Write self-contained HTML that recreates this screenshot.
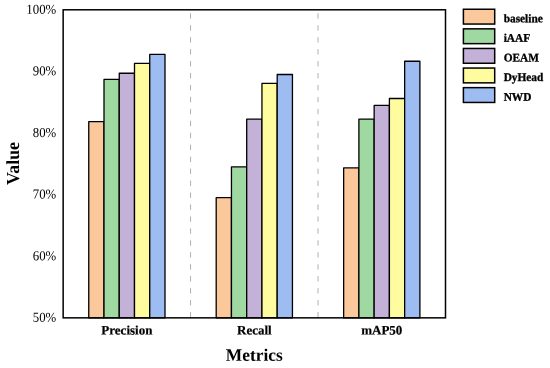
<!DOCTYPE html>
<html><head><meta charset="utf-8"><title>Metrics chart</title>
<style>
html,body{margin:0;padding:0;background:#fff;}
body{width:550px;height:368px;overflow:hidden;}
svg{display:block;}
text{font-family:"Liberation Serif","Times New Roman",serif;fill:#000;text-rendering:geometricPrecision;}
.tk{font-size:12.85px;}
.ct{font-size:13px;font-weight:bold;stroke:#000;stroke-width:0.2px;}
.ax{font-size:17.4px;font-weight:bold;}
.ay{font-size:17.8px;font-weight:bold;}
.lg{font-size:11.35px;font-weight:bold;stroke:#000;stroke-width:0.3px;}
</style></head><body>
<svg width="550" height="368" viewBox="0 0 550 368">
<rect width="550" height="368" fill="#fff"/>
<line x1="190.55" y1="13.25" x2="190.55" y2="317.85" stroke="#b0b0b0" stroke-width="1" stroke-dasharray="5.4 6.55"/>
<line x1="318.00" y1="13.25" x2="318.00" y2="317.85" stroke="#b0b0b0" stroke-width="1" stroke-dasharray="5.4 6.55"/>
<rect x="88.75" y="121.62" width="15.25" height="196.23" fill="#FBC89C" stroke="#000" stroke-width="1.3" stroke-linejoin="round"/>
<rect x="104.00" y="79.42" width="15.25" height="238.43" fill="#9FD8A0" stroke="#000" stroke-width="1.3" stroke-linejoin="round"/>
<rect x="119.25" y="73.26" width="15.25" height="244.59" fill="#C3B1D8" stroke="#000" stroke-width="1.3" stroke-linejoin="round"/>
<rect x="134.50" y="63.40" width="15.25" height="254.45" fill="#FFFB9F" stroke="#000" stroke-width="1.3" stroke-linejoin="round"/>
<rect x="149.75" y="54.47" width="15.25" height="263.38" fill="#9DBDF2" stroke="#000" stroke-width="1.3" stroke-linejoin="round"/>
<rect x="216.20" y="197.71" width="15.25" height="120.14" fill="#FBC89C" stroke="#000" stroke-width="1.3" stroke-linejoin="round"/>
<rect x="231.45" y="166.91" width="15.25" height="150.94" fill="#9FD8A0" stroke="#000" stroke-width="1.3" stroke-linejoin="round"/>
<rect x="246.70" y="119.16" width="15.25" height="198.69" fill="#C3B1D8" stroke="#000" stroke-width="1.3" stroke-linejoin="round"/>
<rect x="261.95" y="83.42" width="15.25" height="234.43" fill="#FFFB9F" stroke="#000" stroke-width="1.3" stroke-linejoin="round"/>
<rect x="277.20" y="74.49" width="15.25" height="243.36" fill="#9DBDF2" stroke="#000" stroke-width="1.3" stroke-linejoin="round"/>
<rect x="343.65" y="167.95" width="15.25" height="149.90" fill="#FBC89C" stroke="#000" stroke-width="1.3" stroke-linejoin="round"/>
<rect x="358.90" y="119.16" width="15.25" height="198.69" fill="#9FD8A0" stroke="#000" stroke-width="1.3" stroke-linejoin="round"/>
<rect x="374.15" y="105.30" width="15.25" height="212.55" fill="#C3B1D8" stroke="#000" stroke-width="1.3" stroke-linejoin="round"/>
<rect x="389.40" y="98.52" width="15.25" height="219.33" fill="#FFFB9F" stroke="#000" stroke-width="1.3" stroke-linejoin="round"/>
<rect x="404.65" y="61.24" width="15.25" height="256.61" fill="#9DBDF2" stroke="#000" stroke-width="1.3" stroke-linejoin="round"/>
<rect x="63.15" y="9.8" width="382.35" height="308.05" fill="none" stroke="#000" stroke-width="1.5"/>
<text transform="translate(56.30 321.75) rotate(0.03) scale(1 1.06)" text-anchor="end" class="tk">50%</text>
<text transform="translate(56.30 260.14) rotate(0.03) scale(1 1.06)" text-anchor="end" class="tk">60%</text>
<text transform="translate(56.30 198.53) rotate(0.03) scale(1 1.06)" text-anchor="end" class="tk">70%</text>
<text transform="translate(56.30 136.92) rotate(0.03) scale(1 1.06)" text-anchor="end" class="tk">80%</text>
<text transform="translate(56.30 75.31) rotate(0.03) scale(1 1.06)" text-anchor="end" class="tk">90%</text>
<text transform="translate(56.30 13.70) rotate(0.03) scale(1 1.06)" text-anchor="end" class="tk">100%</text>
<text transform="translate(126.88 334.40) rotate(0.03)" text-anchor="middle" class="ct">Precision</text>
<text transform="translate(254.33 334.40) rotate(0.03)" text-anchor="middle" class="ct">Recall</text>
<text transform="translate(381.77 334.40) rotate(0.03)" text-anchor="middle" class="ct">mAP50</text>
<text transform="translate(254.30 360.70) rotate(0.03)" text-anchor="middle" class="ax">Metrics</text>
<text transform="translate(19.10 163.50) rotate(-89.97) scale(1 1.03)" text-anchor="middle" class="ay">Value</text>
<rect x="463.4" y="9.25" width="31.3" height="14.8" fill="#FBC89C" stroke="#000" stroke-width="1.5"/>
<text transform="translate(503.65 22.15) rotate(0.03) scale(1 1.03)" text-anchor="start" class="lg">baseline</text>
<rect x="463.4" y="28.85" width="31.3" height="14.8" fill="#9FD8A0" stroke="#000" stroke-width="1.5"/>
<text transform="translate(503.65 41.78) rotate(0.03) scale(1 1.03)" text-anchor="start" class="lg">iAAF</text>
<rect x="463.4" y="48.45" width="31.3" height="14.8" fill="#C3B1D8" stroke="#000" stroke-width="1.5"/>
<text transform="translate(503.65 61.41) rotate(0.03) scale(1 1.03)" text-anchor="start" class="lg">OEAM</text>
<rect x="463.4" y="68.05" width="31.3" height="14.8" fill="#FFFB9F" stroke="#000" stroke-width="1.5"/>
<text transform="translate(503.65 81.04) rotate(0.03) scale(1 1.03)" text-anchor="start" class="lg">DyHead</text>
<rect x="463.4" y="87.65" width="31.3" height="14.8" fill="#9DBDF2" stroke="#000" stroke-width="1.5"/>
<text transform="translate(503.65 100.67) rotate(0.03) scale(1 1.03)" text-anchor="start" class="lg">NWD</text>
</svg>
</body></html>
